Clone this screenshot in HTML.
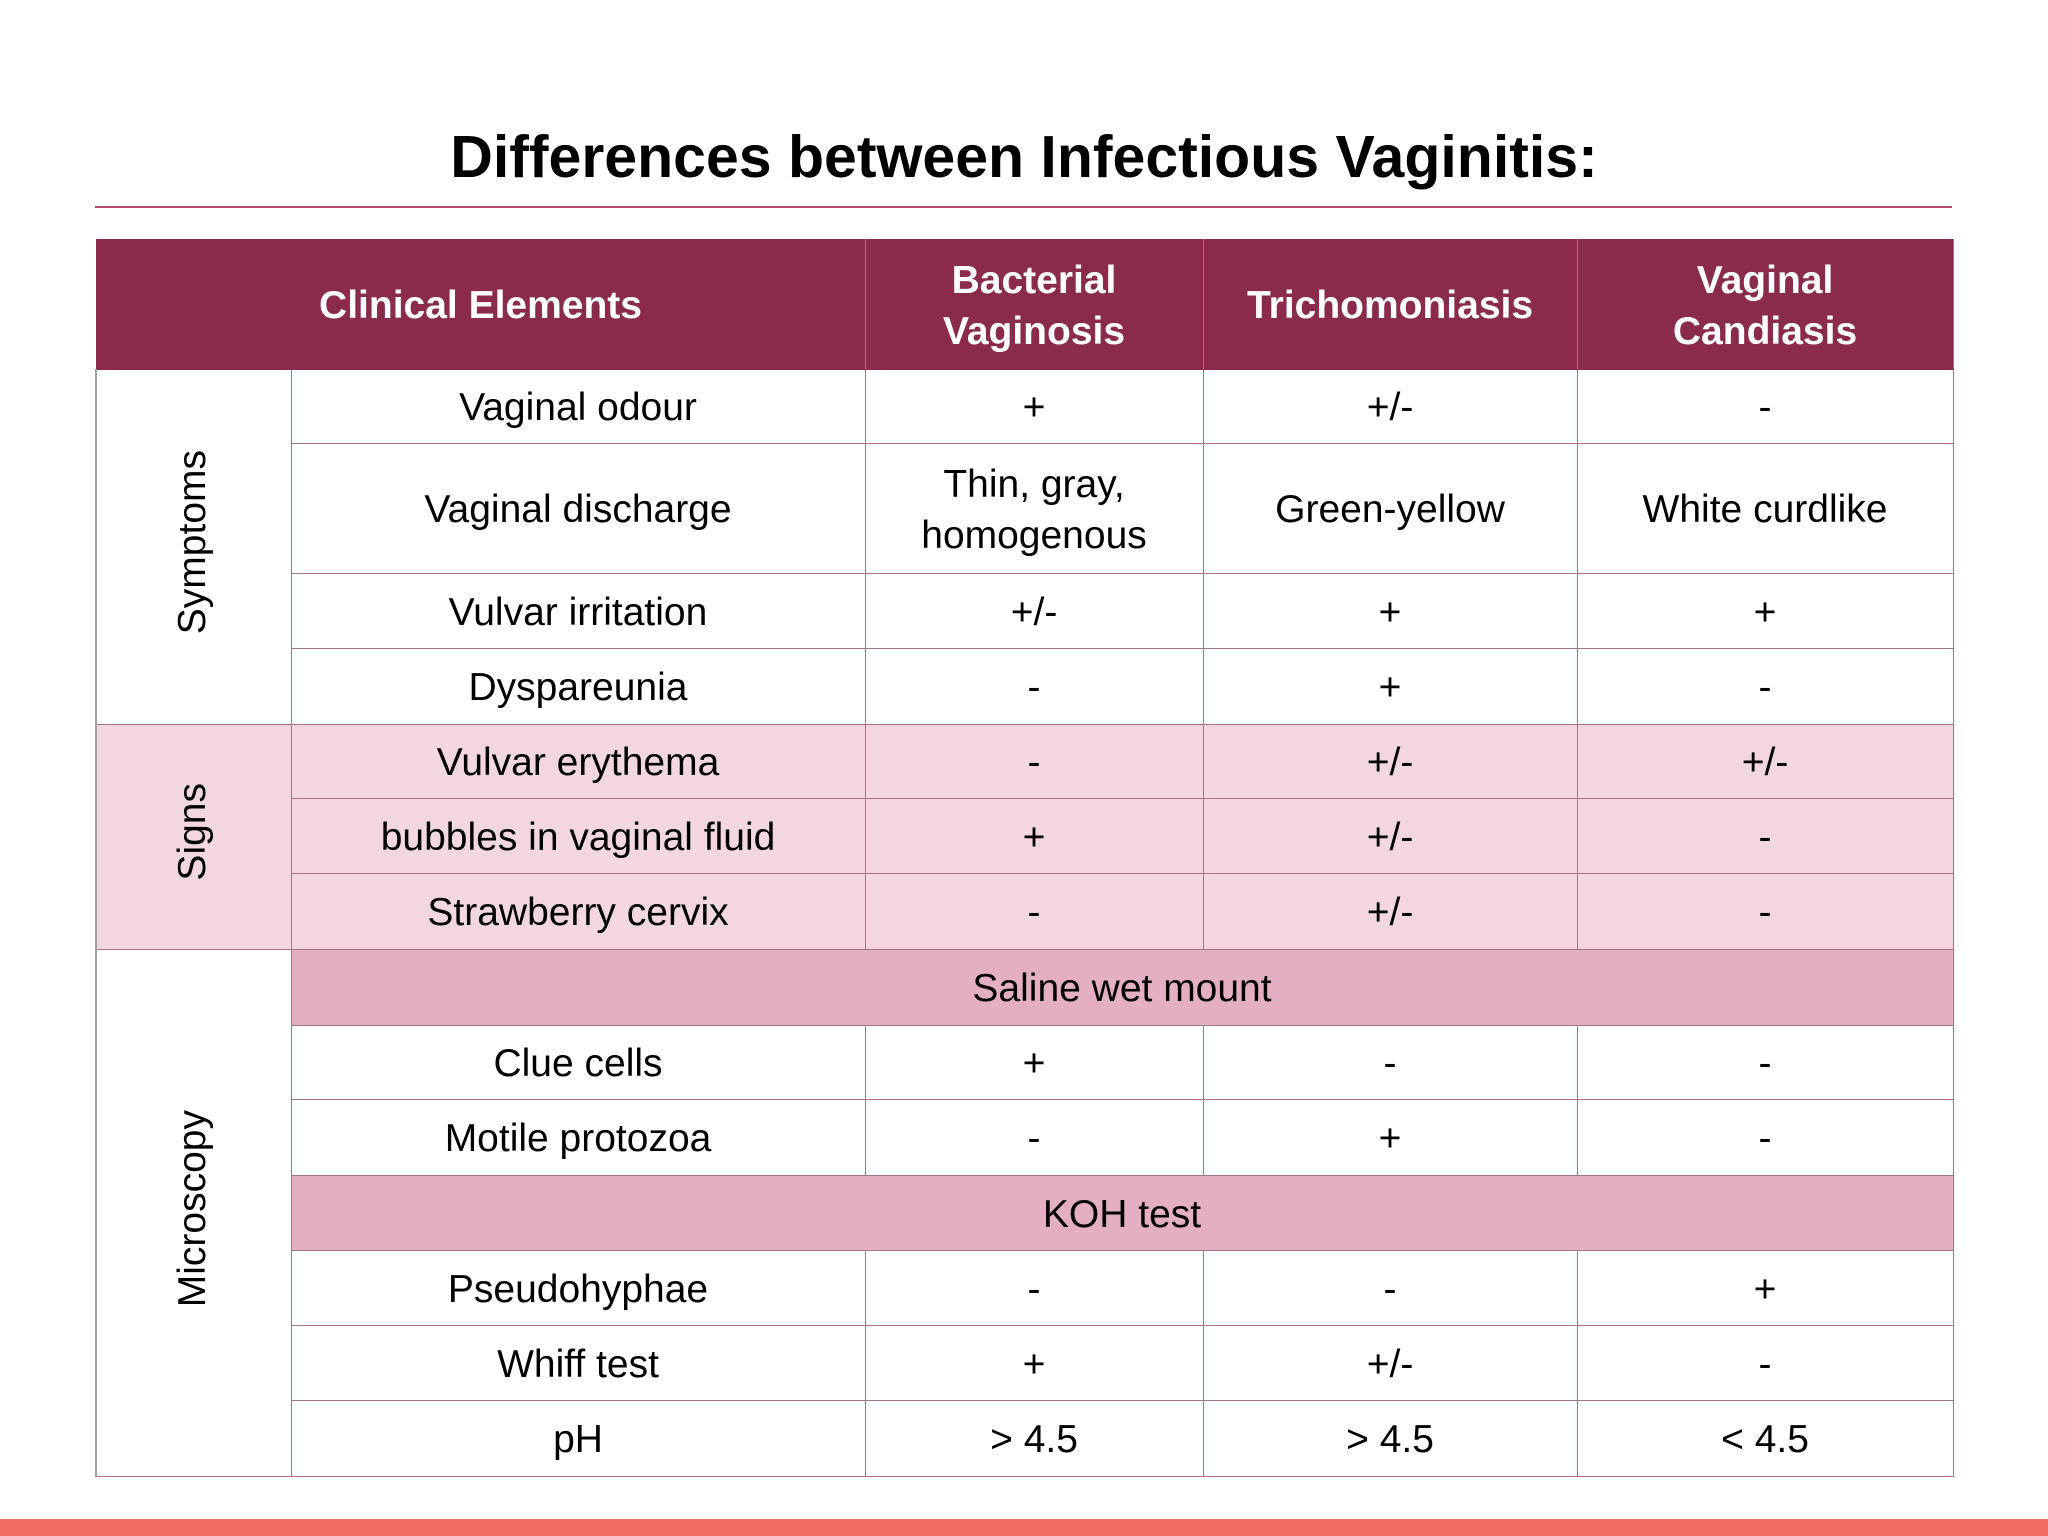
<!DOCTYPE html>
<html><head><meta charset="utf-8"><style>
body{margin:0;width:2048px;height:1536px;background:#fff;position:relative;overflow:hidden;font-family:"Liberation Sans","DejaVu Sans",sans-serif;}
#title{position:absolute;left:0;width:2048px;top:123px;text-align:center;font-weight:bold;font-size:59px;color:#000;}
#rule{position:absolute;left:95px;width:1857px;top:206px;height:2px;background:#b34d72;}
table{position:absolute;left:95px;top:239px;width:1857px;border-collapse:collapse;table-layout:fixed;}
td,th{border:1.5px solid #a87386;text-align:center;font-size:39px;color:#000;padding:4px 0 0 0;line-height:1.3;}
th{background:#8a2b4b;color:#fff;font-weight:bold;border-color:#8a2b4b;border-right-color:#a87386;}
.grp{border-left:2px solid #a0a0a0;}
.v{writing-mode:vertical-rl;transform:rotate(180deg);display:inline-block;}
.pink td{background:#f2d7e1;}
.sub{background:#e4afc2;}
#bar{position:absolute;left:0;top:1519px;width:2048px;height:17px;background:#f26b63;}
</style></head><body>
<div id="title">Differences between Infectious Vaginitis:</div>
<div id="rule"></div>
<table>
<colgroup><col style="width:195px"><col style="width:574px"><col style="width:338px"><col style="width:374px"><col style="width:376px"></colgroup>
<tr style="height:130px"><th colspan="2">Clinical Elements</th><th>Bacterial<br>Vaginosis</th><th>Trichomoniasis</th><th>Vaginal<br>Candiasis</th></tr>
<tr style="height:74px"><td rowspan="4" class="grp"><span class="v">Symptoms</span></td><td>Vaginal odour</td><td>+</td><td>+/-</td><td>-</td></tr>
<tr style="height:130px"><td>Vaginal discharge</td><td>Thin, gray,<br>homogenous</td><td>Green-yellow</td><td>White curdlike</td></tr>
<tr style="height:75px"><td>Vulvar irritation</td><td>+/-</td><td>+</td><td>+</td></tr>
<tr style="height:76px"><td>Dyspareunia</td><td>-</td><td>+</td><td>-</td></tr>
<tr style="height:74px" class="pink"><td rowspan="3" class="grp"><span class="v">Signs</span></td><td>Vulvar erythema</td><td>-</td><td>+/-</td><td>+/-</td></tr>
<tr style="height:75px" class="pink"><td>bubbles in vaginal fluid</td><td>+</td><td>+/-</td><td>-</td></tr>
<tr style="height:76px" class="pink"><td>Strawberry cervix</td><td>-</td><td>+/-</td><td>-</td></tr>
<tr style="height:76px"><td rowspan="8" class="grp"><span class="v">Microscopy</span></td><td colspan="4" class="sub">Saline wet mount</td></tr>
<tr style="height:74px"><td>Clue cells</td><td>+</td><td>-</td><td>-</td></tr>
<tr style="height:76px"><td>Motile protozoa</td><td>-</td><td>+</td><td>-</td></tr>
<tr style="height:75px"><td colspan="4" class="sub">KOH test</td></tr>
<tr style="height:75px"><td>Pseudohyphae</td><td>-</td><td>-</td><td>+</td></tr>
<tr style="height:75px"><td>Whiff test</td><td>+</td><td>+/-</td><td>-</td></tr>
<tr style="height:76px"><td>pH</td><td>&gt; 4.5</td><td>&gt; 4.5</td><td>&lt; 4.5</td></tr>
</table>
<div id="bar"></div>
</body></html>
